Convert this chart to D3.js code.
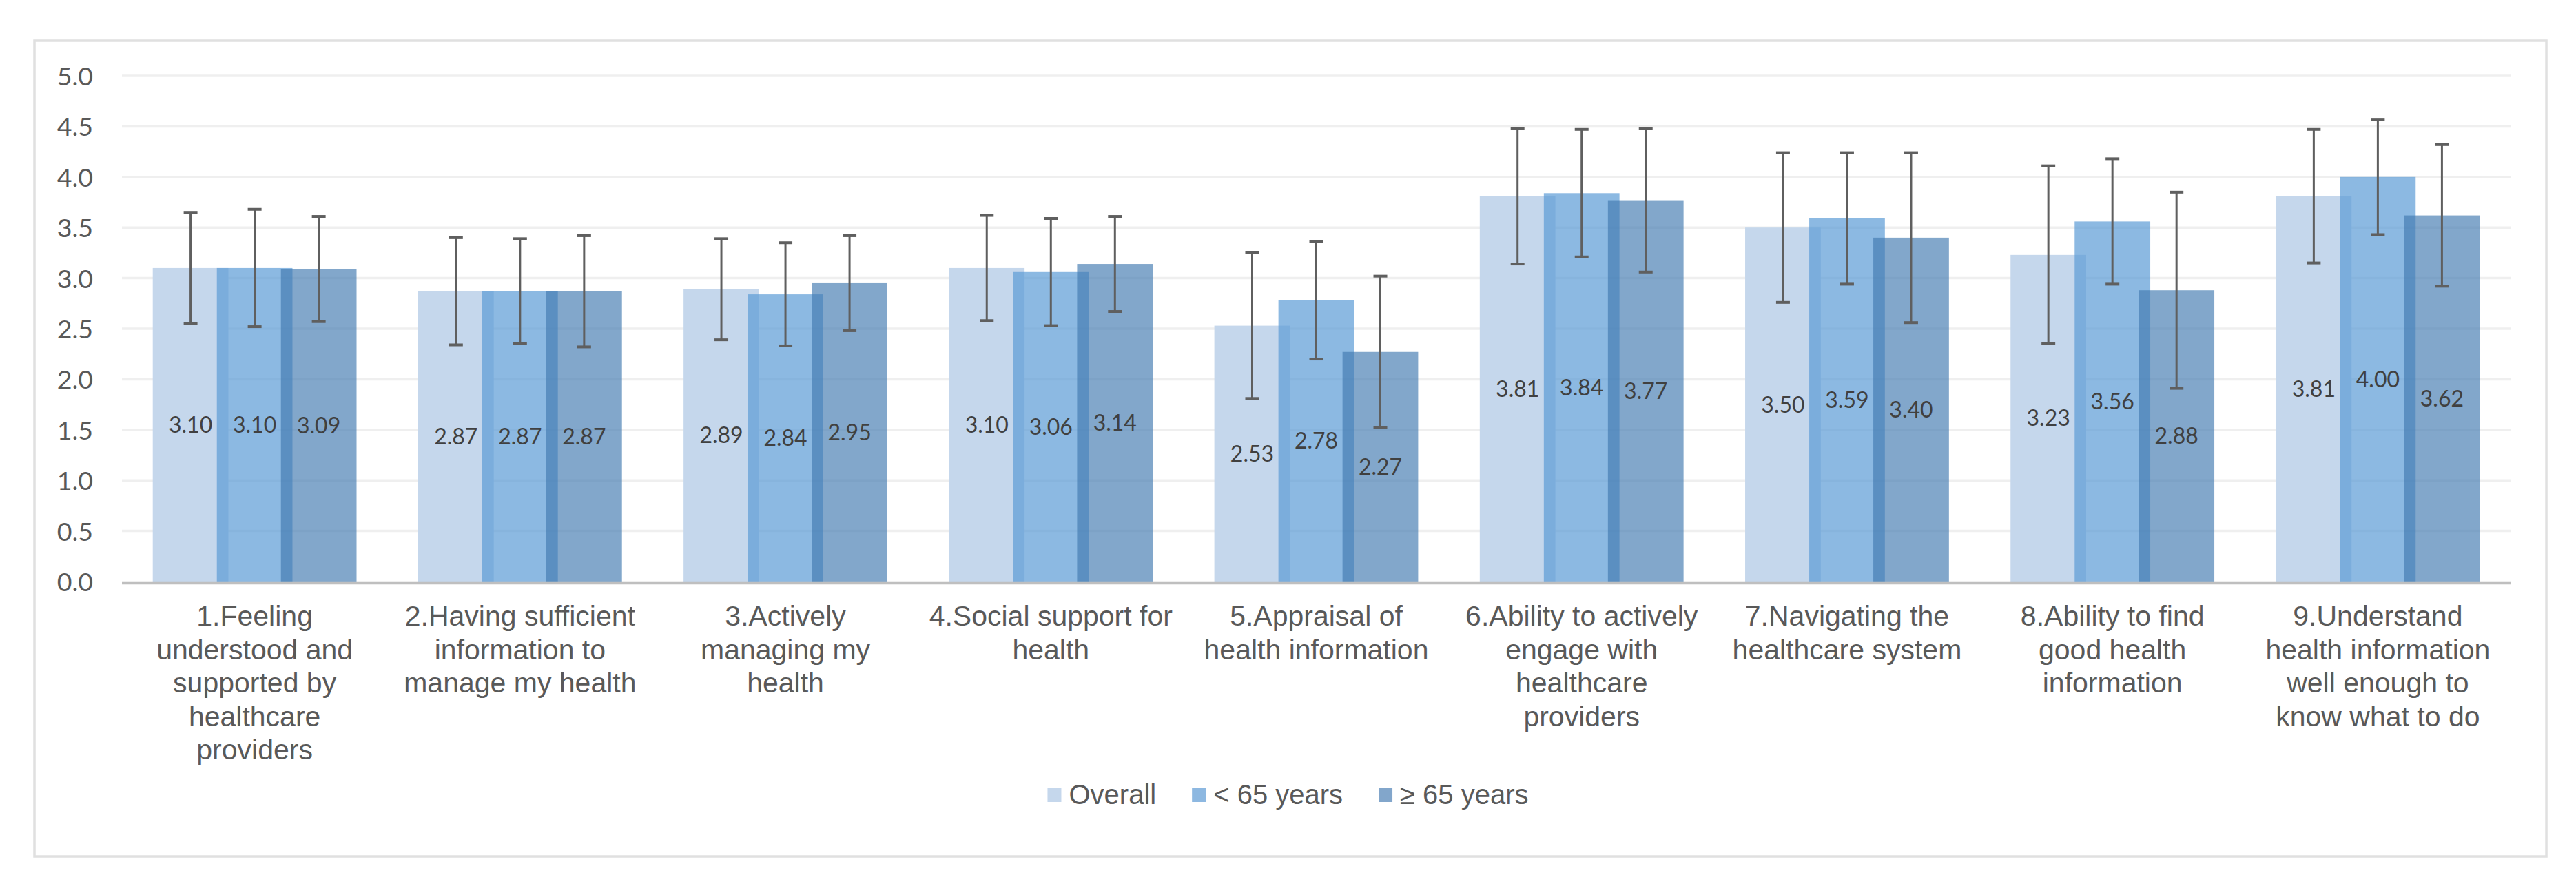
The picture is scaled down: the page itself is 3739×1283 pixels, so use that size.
<!DOCTYPE html>
<html>
<head>
<meta charset="utf-8">
<script src="https://cdn.jsdelivr.net/npm/d3@7"></script>
<style>
  html, body { margin: 0; padding: 0; background: #ffffff; }
  svg { display: block; }
</style>
</head>
<body>
<svg id="chart" width="3739" height="1283"></svg>
<script>
// ---------- data ----------
const categoryLines = [
  ["1.Feeling", "understood and", "supported by", "healthcare", "providers"],
  ["2.Having sufficient", "information to", "manage my health"],
  ["3.Actively", "managing my", "health"],
  ["4.Social support for", "health"],
  ["5.Appraisal of", "health information"],
  ["6.Ability to actively", "engage with", "healthcare", "providers"],
  ["7.Navigating the", "healthcare system"],
  ["8.Ability to find", "good health", "information"],
  ["9.Understand", "health information", "well enough to", "know what to do"]
];
const seriesNames = ["Overall", "< 65 years", "\u2265 65 years"];
const overall   = [3.10, 2.87, 2.89, 3.10, 2.53, 3.81, 3.50, 3.23, 3.81];
const under65   = [3.10, 2.87, 2.84, 3.06, 2.78, 3.84, 3.59, 3.56, 4.00];
const over65    = [3.09, 2.87, 2.95, 3.14, 2.27, 3.77, 3.40, 2.88, 3.62];
const overallSD = [0.55, 0.53, 0.50, 0.52, 0.72, 0.67, 0.74, 0.88, 0.66];
const under65SD = [0.58, 0.52, 0.51, 0.53, 0.58, 0.63, 0.65, 0.62, 0.57];
const over65SD  = [0.52, 0.55, 0.47, 0.47, 0.75, 0.71, 0.84, 0.97, 0.70];
const yTicks = [0, 0.5, 1.0, 1.5, 2.0, 2.5, 3.0, 3.5, 4.0, 4.5, 5.0];

// ---------- styles ----------
const seriesFill = ["#c5d7ec", "#5b9bd5", "#4179b0"];
const seriesOpacity = [1, 0.7, 0.66];
const legendFill = ["#c5d7ec", "#8db8e1", "#82a6cb"];

const svg = d3.select("#chart");
const W = 3739, H = 1283;
const plot = { left: 177, right: 3644, top: 110, bottom: 844 };

// outer frame
svg.append("rect")
  .attr("x", 50).attr("y", 59).attr("width", 3646).attr("height", 1184)
  .attr("fill", "#ffffff").attr("stroke", "#e0e0e0").attr("stroke-width", 3.5);

const categories = categoryLines.map((d, i) => "c" + i);
const x0 = d3.scaleBand().domain(categories).range([plot.left, plot.right]).paddingInner(0).paddingOuter(0);
const step = x0.step();
const x1 = d3.scaleBand().domain(seriesNames)
  .range([-step * 0.3622, step * 0.3622]).paddingInner(0).paddingOuter(0);
const barW = x1.step() * 1.18;
const y = d3.scaleLinear().domain([0, 5]).range([plot.bottom, plot.top]);

// gridlines
svg.append("g").selectAll("line").data(yTicks.filter(t => t > 0)).join("line")
  .attr("x1", plot.left).attr("x2", plot.right)
  .attr("y1", d => y(d)).attr("y2", d => y(d))
  .attr("stroke", "#efefef").attr("stroke-width", 3.5);

// y axis labels via d3 axis
const yAxis = d3.axisLeft(y).tickValues(yTicks).tickFormat(d3.format(".1f")).tickSize(0).tickPadding(0);
const yg = svg.append("g").attr("transform", "translate(135,0)").call(yAxis);
yg.select(".domain").remove();
yg.selectAll("text")
  .attr("font-family", "Lato, 'Open Sans', sans-serif")
  .attr("font-size", 37.5)
  .attr("fill", "#595959")
  .attr("dy", "0.36em");

// bars
const seriesVals = [overall, under65, over65];
const seriesSD = [overallSD, under65SD, over65SD];
const rows = [];
seriesNames.forEach((s, si) => {
  categories.forEach((c, ci) => {
    rows.push({ s, si, c, ci, v: seriesVals[si][ci], sd: seriesSD[si][ci] });
  });
});
const cx = d => x0(d.c) + step / 2 + x1(d.s) + x1.bandwidth() / 2;

svg.append("g").selectAll("rect").data(rows).join("rect")
  .attr("x", d => cx(d) - barW / 2)
  .attr("y", d => y(d.v))
  .attr("width", barW)
  .attr("height", d => y(0) - y(d.v))
  .attr("fill", d => seriesFill[d.si])
  .attr("fill-opacity", d => seriesOpacity[d.si]);

// baseline
svg.append("line")
  .attr("x1", plot.left).attr("x2", plot.right)
  .attr("y1", y(0) + 2).attr("y2", y(0) + 2)
  .attr("stroke", "#bfbfbf").attr("stroke-width", 4.5);

// error bars
const eb = svg.append("g").attr("stroke", "#5f5f5f");
eb.selectAll("line.v").data(rows).join("line").attr("class", "v")
  .attr("x1", cx).attr("x2", cx)
  .attr("y1", d => y(d.v + d.sd)).attr("y2", d => y(d.v - d.sd))
  .attr("stroke-width", 3);
eb.selectAll("line.t").data(rows).join("line").attr("class", "t")
  .attr("x1", d => cx(d) - 10).attr("x2", d => cx(d) + 10)
  .attr("y1", d => y(d.v + d.sd)).attr("y2", d => y(d.v + d.sd))
  .attr("stroke-width", 4);
eb.selectAll("line.b").data(rows).join("line").attr("class", "b")
  .attr("x1", d => cx(d) - 10).attr("x2", d => cx(d) + 10)
  .attr("y1", d => y(d.v - d.sd)).attr("y2", d => y(d.v - d.sd))
  .attr("stroke-width", 4);

// data labels
svg.append("g").selectAll("text").data(rows).join("text")
  .attr("x", cx)
  .attr("y", d => y(d.v / 2))
  .attr("dy", "0.36em")
  .attr("text-anchor", "middle")
  .attr("font-family", "Lato, 'Open Sans', sans-serif")
  .attr("font-size", 32)
  .attr("fill", "#404040")
  .text(d => d.v.toFixed(2));

// category labels
const catG = svg.append("g")
  .attr("font-family", "'Liberation Sans', Arial, sans-serif")
  .attr("font-size", 41)
  .attr("fill", "#595959")
  .attr("text-anchor", "middle");
categoryLines.forEach((lines, ci) => {
  const t = catG.append("text")
    .attr("x", x0(categories[ci]) + step / 2)
    .attr("y", 908);
  lines.forEach((ln, li) => {
    t.append("tspan")
      .attr("x", x0(categories[ci]) + step / 2)
      .attr("y", 908 + li * 48.5)
      .text(ln);
  });
});

// legend
const lg = svg.append("g")
  .attr("font-family", "'Liberation Sans', Arial, sans-serif")
  .attr("font-size", 40)
  .attr("fill", "#595959");
const items = [];
let cursor = 0;
seriesNames.forEach((name, i) => {
  const g = lg.append("g");
  g.append("rect").attr("x", 0).attr("y", -10).attr("width", 20).attr("height", 21)
    .attr("fill", legendFill[i]);
  const tx = g.append("text").attr("x", 31).attr("y", 0).attr("dy", "0.36em").text(name);
  const w = 31 + tx.node().getComputedTextLength();
  g.attr("transform", `translate(${cursor},1153)`);
  items.push(g);
  cursor += w + 52;
});
const totalW = cursor - 52;
lg.attr("transform", `translate(${W / 2 - totalW / 2},0)`);
</script>
</body>
</html>
